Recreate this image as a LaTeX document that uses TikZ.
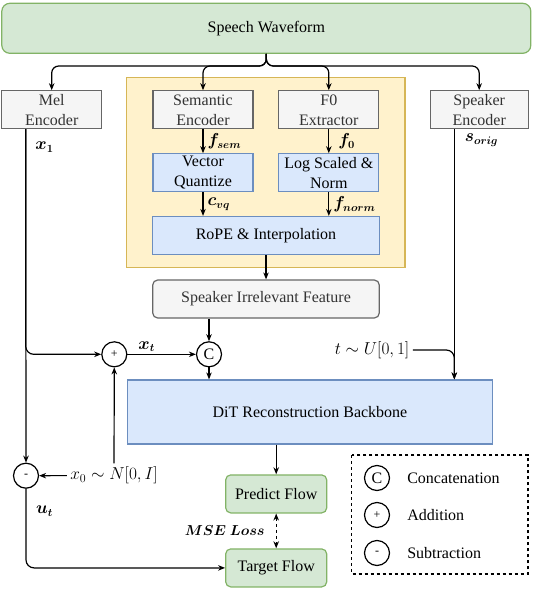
\documentclass[tikz,border=0pt]{standalone}
\usepackage[no-math]{fontspec}
\setmainfont{Liberation Serif}
\newfontfamily\diagfont{Liberation Serif}
\usepackage{amsmath,amssymb,bm}
\usepackage{tikz}
\usetikzlibrary{arrows.meta,positioning,calc}
\definecolor{greenfill}{HTML}{D5E8D4}
\definecolor{greenline}{HTML}{82B366}
\definecolor{grayfill}{HTML}{F5F5F5}
\definecolor{grayline}{HTML}{666666}
\definecolor{graytext}{HTML}{333333}
\definecolor{bluefill}{HTML}{DAE8FC}
\definecolor{blueline}{HTML}{6C8EBF}
\definecolor{yellowfill}{HTML}{FFF2CC}
\definecolor{yellowline}{HTML}{D6B656}
\tikzstyle{graybox}=[draw=grayline, fill=grayfill, text=graytext, line width=1.2pt, align=center, minimum width=100pt, minimum height=38pt, inner sep=0pt]
\tikzstyle{bluebox}=[draw=blueline, fill=bluefill, line width=1.2pt, align=center, minimum width=100pt, minimum height=38pt, inner sep=0pt]
\tikzstyle{greenbox}=[draw=greenline, fill=greenfill, line width=1.2pt, rounded corners=5pt, align=center, minimum width=101pt, minimum height=38pt, inner sep=0pt]
\tikzstyle{op}=[circle, draw=black, fill=white, line width=1.2pt, minimum size=25pt, inner sep=0pt]
\tikzstyle{lab}=[inner sep=4pt, font=\fontsize{16}{20}\selectfont]
\tikzstyle{mathlab}=[font=\fontsize{16.5}{20}\selectfont]
\tikzstyle{arr}=[-{Stealth[length=7pt,width=5.5pt]}, line width=1.2pt]
\newcommand{\opsign}[1]{{\fontsize{12}{12}\selectfont #1}}

\begin{document}
\begin{tikzpicture}[x=1pt, y=-1pt, font=\diagfont\fontsize{16}{20}\selectfont]
        \useasboundingbox (0,0) rectangle (533,589);
        % feature branch
        \draw[draw=yellowline, fill=yellowfill, line width=1.2pt] (126.7,77.7) rectangle (405,267.3);
        %
        \node at (266.3,28.3) [greenbox, rounded corners=8pt, minimum width=529pt, minimum height=50pt] (wave) {Speech Waveform};
        \coordinate (fork) at (266.3,66);
        \node at (51.7,109.8) [graybox] (mel) {Mel\\Encoder};
        \node at (203,109.8) [graybox] (sem) {Semantic\\Encoder};
        \node at (328.8,109.8) [graybox] (fzero) {F0\\Extractor};
        \node at (479.2,109.8) [graybox, minimum width=98pt] (spk) {Speaker\\Encoder};
        \node at (203,172.8) [bluebox] (vq) {Vector\\Quantize};
        \node at (328.8,172.8) [bluebox] (logn) {Log Scaled \&\\Norm};
        \node at (266,235.5) [bluebox, minimum width=226.6pt] (rope) {RoPE \& Interpolation};
        \node at (266,299) [graybox, rounded corners=5pt, minimum width=226.6pt] (sif) {Speaker Irrelevant Feature};
        %
        \node at (114.3,354.3) [op] (add) {\opsign{+}};
        \node at (209,354.3) [op] (cat) {C};
        \node at (26,475.7) [op] (sub) {\opsign{-}};
        \node at (310,412) [bluebox, minimum width=365.4pt, minimum height=64pt] (dit) {DiT Reconstruction Backbone};
        \node at (276.2,493.9) [greenbox] (pred) {Predict Flow};
        \node at (276.2,567.9) [greenbox] (tgt) {Target Flow};
        \node at (114,475.5) [mathlab] (noise) {$x_0 \sim N[0,I]$};
        \node at (372,350) [mathlab] (tstep) {$t \sim U[0,1]$};
        \coordinate (melout) at (25.7,129);
        \coordinate (spkout) at (454.3,129);
        %
        \foreach \dst in {mel,sem,fzero,spk}
          \draw[arr, rounded corners=7pt] (wave.south) -- (fork) -| (\dst.north);
        \draw[arr] (sem) -- (vq) node[midway, right, lab] {$\bm{f_{sem}}$};
        \draw[arr] (fzero) -- (logn) node[midway, right, lab, xshift=5pt] {$\bm{f_{0}}$};
        \draw[arr] (vq.south) -- (vq.south |- rope.north) node[midway, right, lab] {$\bm{c_{vq}}$};
        \draw[arr] (logn.south) -- (logn.south |- rope.north) node[midway, right, lab] {$\bm{f_{norm}}$};
        \draw[arr] (rope) -- (sif);
        \draw[arr] (cat |- sif.south) -- (cat);
        \draw[arr] (cat) -- (cat |- dit.north);
        %
        \draw[arr] (melout) -- (sub);
        \draw[arr, rounded corners=8pt] (melout) |- (add);
        \node at (44.5,147) [lab] {$\bm{x_1}$};
        \draw[arr] (add) -- (cat) node[pos=0.28, above, lab, inner sep=2pt] {$\bm{x_t}$};
        \draw[arr] (noise) -- (add);
        \draw[arr] (noise) -- (sub);
        \draw[arr, rounded corners=8pt] (sub) |- (tgt);
        \node at (44.5,511) [lab] {$\bm{u_t}$};
        %
        \draw[arr] (spkout) -- (spkout |- dit.north);
        \node at (481.5,140) [lab] {$\bm{s_{orig}}$};
        \draw[arr, rounded corners=8pt] (tstep.east) -| (spkout |- dit.north);
        %
        \draw[arr] (pred |- dit.south) -- (pred);
        \draw[{Stealth[length=7pt,width=5.5pt]}-{Stealth[length=7pt,width=5.5pt]}, line width=1.2pt, dashed] (pred) -- (tgt) node[midway, left, inner sep=11pt, font=\fontsize{15.5}{20}\selectfont] {$\bm{MSE\ Loss}$};
        % legend
        \draw[dashed, line width=1.2pt] (351.7,455) rectangle (528,574);
        \node at (377,478) [op] (lcat) {C};
        \node at (377,515) [op] (ladd) {\opsign{+}};
        \node at (377,553) [op] (lsub) {\opsign{-}};
        \node [right=17pt of lcat, inner sep=0pt] {Concatenation};
        \node [right=17pt of ladd, inner sep=0pt] {Addition};
        \node [right=17pt of lsub, inner sep=0pt] {Subtraction};
      \end{tikzpicture}
\end{document}
